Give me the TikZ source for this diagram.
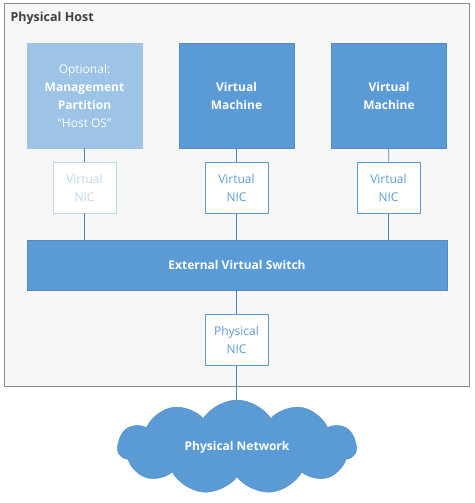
\documentclass[tikz,border=0pt]{standalone}
\usepackage{fontspec}
\setmainfont{Open Sans}
\usetikzlibrary{shapes.symbols}
\usetikzlibrary{positioning}
\usepackage{xcolor}

\definecolor{vmblue}{HTML}{5B9BD5}
\definecolor{mgmtblue}{HTML}{9DC3E6}
\definecolor{paleblue}{HTML}{BDD7EE}
\definecolor{hostfill}{HTML}{F7F7F7}
\definecolor{hostline}{HTML}{8C8C8C}
\definecolor{titlegray}{HTML}{404040}

\begin{document}
\begin{tikzpicture}[x=1pt,y=-1pt,
  vmbox/.style={fill=vmblue, draw=vmblue!90!black, line width=0.4pt, minimum width=115, minimum height=105, text=white, align=center, font=\fontsize{12}{18}\selectfont\bfseries},
  nicbox/.style={draw=vmblue, fill=white, line width=0.8pt, minimum width=63, minimum height=51, text=vmblue, align=center, font=\fontsize{12}{18}\selectfont},
  link/.style={draw=vmblue!85!black, line width=0.7pt}]
%% The picture is measured in pixels, y runs downwards
\useasboundingbox (0,0) rectangle (474,503);
%% The host is a plain gray rectangle behind everything
\draw[fill=hostfill, draw=hostline, line width=0.8pt] (4,3) rectangle (469,386);
\node[anchor=west, text=titlegray, font=\fontsize{12.5}{14}\selectfont\bfseries] (hosttitle) at (7,18) {Physical Host};
%% Partitions on top
\node[vmbox, fill=mgmtblue, draw=mgmtblue] (mgmt) at (84.5,95.5) {\mdseries Optional:\\Management\\Partition\\\mdseries ``Host OS''};
\node[vmbox] (vmone) at (236.5,95.5) {Virtual\\Machine};
\node[vmbox] (vmtwo) at (389,95.5) {Virtual\\Machine};
%% The virtual NICs, the first one is faded
\node[nicbox, draw=paleblue, text=paleblue] (nicmgmt) at (84.5,187.5) {Virtual\\NIC};
\node[nicbox] (nicone) at (236.5,187.5) {Virtual\\NIC};
\node[nicbox] (nictwo) at (388.5,187.5) {Virtual\\NIC};
%% Switch and the way out
\node[vmbox, minimum width=420, minimum height=50] (switch) at (237,265) {External Virtual Switch};
\node[nicbox] (physnic) at (236.5,339.5) {Physical\\NIC};
\node[cloud, cloud puffs=11, cloud puff arc=115, aspect=2.6, minimum width=239, minimum height=94, inner sep=0pt, fill=vmblue, draw=vmblue!90!black, text=white, font=\fontsize{12}{14}\selectfont\bfseries] (network) at (237,447) {Physical Network};
%% Connectors
\draw[link] (mgmt) -- (nicmgmt);
\draw[link] (vmone) -- (nicone);
\draw[link] (vmtwo) -- (nictwo);
\draw[link] (nicmgmt) -- (nicmgmt |- switch.north);
\draw[link] (nicone) -- (nicone |- switch.north);
\draw[link] (nictwo) -- (nictwo |- switch.north);
\draw[link] (switch.south -| physnic) -- (physnic);
\draw[link] (physnic) -- (physnic |- network.north);
\end{tikzpicture}
\end{document}
